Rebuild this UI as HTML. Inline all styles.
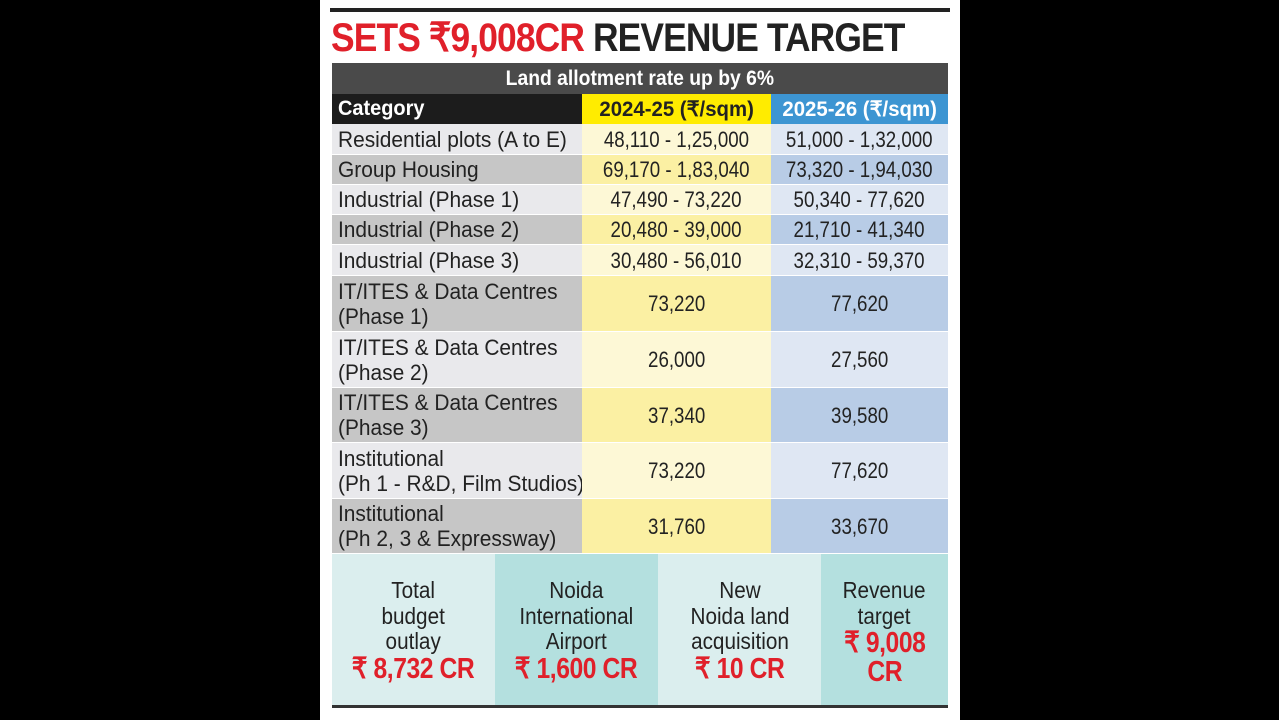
<!DOCTYPE html>
<html><head><meta charset="utf-8"><style>
body{margin:0;width:1279px;height:720px;background:#000;position:relative;overflow:hidden;font-family:"Liberation Sans",sans-serif;}
#p{position:absolute;left:320px;top:0;width:640px;height:720px;background:#fff;}
.a{position:absolute;box-sizing:border-box;display:flex;align-items:center;}
.t{font-size:22px;color:#222;line-height:25px;}
.c{justify-content:center;text-align:center;}
.s{display:inline-block;transform:scaleX(0.85);transform-origin:left center;white-space:nowrap;}
.c .s{transform-origin:center center;}
</style></head><body>
<div id="p"></div>
<div class="a" style="left:330px;top:8px;width:620px;height:4px;background:#222"></div>
<div class="a" style="left:331px;top:14px;height:48px;font-weight:bold;font-size:40px;letter-spacing:-1px;transform:scaleX(0.885);transform-origin:left center;white-space:nowrap"><span style="color:#e0202a">SETS ₹9,008CR&nbsp;</span><span style="color:#222">REVENUE TARGET</span></div>
<div class="a c" style="left:332px;top:63px;width:616px;height:31px;background:#4a4a4a;color:#fff;font-weight:bold;font-size:21px"><span class="s" style="transform:scaleX(0.92)">Land allotment rate up by 6%</span></div>
<div class="a" style="left:332px;top:94px;width:250px;height:30px;background:#1c1c1c;color:#fff;font-weight:bold;font-size:21px;padding-left:6px"><span class="s" style="transform:scaleX(0.95)">Category</span></div>
<div class="a c" style="left:582px;top:94px;width:189px;height:30px;background:#ffec00;color:#222;font-weight:bold;font-size:21px"><span class="s" style="transform:scaleX(0.97)">2024-25 (₹/sqm)</span></div>
<div class="a c" style="left:771px;top:94px;width:177px;height:30px;background:#3d95d2;color:#fff;font-weight:bold;font-size:21px"><span class="s" style="transform:scaleX(0.97)">2025-26 (₹/sqm)</span></div>
<div id="rows"></div>
<script>
var R=[[124,31,"Residential plots (A to E)","48,110 - 1,25,000","51,000 - 1,32,000"],
[155,30,"Group Housing","69,170 - 1,83,040","73,320 - 1,94,030"],
[185,30,"Industrial (Phase 1)","47,490 - 73,220","50,340 - 77,620"],
[215,30,"Industrial (Phase 2)","20,480 - 39,000","21,710 - 41,340"],
[245,31,"Industrial (Phase 3)","30,480 - 56,010","32,310 - 59,370"],
[276,56,"IT/ITES &amp; Data Centres<br>(Phase 1)","73,220","77,620"],
[332,56,"IT/ITES &amp; Data Centres<br>(Phase 2)","26,000","27,560"],
[388,55,"IT/ITES &amp; Data Centres<br>(Phase 3)","37,340","39,580"],
[443,56,"Institutional<br>(Ph 1 - R&amp;D, Film Studios)","73,220","77,620"],
[499,55,"Institutional<br>(Ph 2, 3 &amp; Expressway)","31,760","33,670"]];
var h="";
R.forEach(function(r,i){var d=i%2==1;
h+='<div class="a t" style="left:332px;top:'+r[0]+'px;width:250px;height:'+(r[1]-1)+'px;padding-left:6px;background:'+(d?'#c6c6c6':'#e9e9ec')+'"><span class="s" style="transform:scaleX(0.95)">'+r[2]+'</span></div>';
h+='<div class="a t c" style="left:582px;top:'+r[0]+'px;width:189px;height:'+(r[1]-1)+'px;background:'+(d?'#fbf0a3':'#fdf8d6')+'"><span class="s">'+r[3]+'</span></div>';
h+='<div class="a t c" style="left:771px;top:'+r[0]+'px;width:177px;height:'+(r[1]-1)+'px;background:'+(d?'#b8cce6':'#dfe7f3')+'"><span class="s">'+r[4]+'</span></div>';});
var B=[[332,163,"#dbeeee","Total<br>budget<br>outlay","₹ 8,732 CR"],[495,163,"#b4e0df","Noida<br>International<br>Airport","₹ 1,600 CR"],[658,163,"#dbeeee","New<br>Noida land<br>acquisition","₹ 10 CR"],[821,127,"#b4e0df","Revenue<br>target","₹ 9,008<br>CR"]];
B.forEach(function(b){h+='<div class="a c" style="left:'+b[0]+'px;top:554px;width:'+b[1]+'px;height:152px;background:'+b[2]+';flex-direction:column;justify-content:flex-start;padding-top:24px"><div class="t s" style="font-size:23px;line-height:25.5px;transform:scaleX(0.9)">'+b[3]+'</div><div class="s" style="color:#e0202a;font-weight:bold;font-size:29px;line-height:29px;letter-spacing:-0.5px;transform:scaleX(0.85)">'+b[4]+'</div></div>';});
h+='<div class="a" style="left:332px;top:705px;width:616px;height:3px;background:#333"></div>';
document.getElementById("rows").innerHTML=h;
</script>
</body></html>
